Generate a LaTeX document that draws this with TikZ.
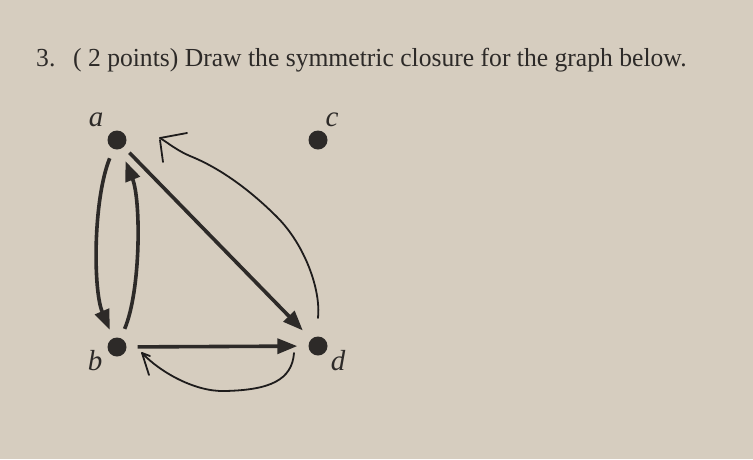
\documentclass[tikz,border=0pt]{standalone}
\usepackage{fontspec}
\setmainfont{Liberation Serif}
\usetikzlibrary{arrows.meta,calc}
\definecolor{paper}{RGB}{214,205,191}
\definecolor{ink}{RGB}{45,42,40}
\definecolor{pen}{RGB}{30,28,28}
\tikzset{
  dot/.style={circle,fill=ink,inner sep=0pt,minimum size=19pt},
  lbl/.style={font=\fontsize{29}{29}\selectfont\itshape,text=ink,inner sep=0pt},
  arr/.style={draw=ink,line width=3.6pt,-{Triangle[length=20pt,width=15pt]}},
  hand/.style={draw=pen,line width=1.8pt,line cap=round,line join=round},
}
\begin{document}
\begin{tikzpicture}[x=1pt,y=-1pt]
\fill[paper] (0,0) rectangle (753,459);
\useasboundingbox (0,0) rectangle (753,459);
\node[anchor=base west,inner sep=0pt,text=ink] (title) at (36,66)
  {\scalebox{0.985}[1]{\fontsize{26}{26}\selectfont 3.\hspace{18pt}( 2 points) Draw the symmetric closure for the graph below.}};
\node[dot] (a) at (117,140) {};
\node[dot] (c) at (318,140) {};
\node[dot] (b) at (117,347) {};
\node[dot] (d) at (318,346) {};
\node[lbl] (la) at (96,120) {a};
\node[lbl] (lc) at (332,120) {c};
\node[lbl] (lb) at (95,361) {b};
\node[lbl] (ld) at (338,361) {d};
% original relation
\draw[arr,shorten <=10pt,shorten >=9pt] (a) .. controls (93,200) and (93,290) .. (b);
\draw[arr,shorten <=10pt,shorten >=13pt] (b) .. controls (141,290) and (141,200) .. (a);
\draw[arr,shorten <=8pt,shorten >=12pt] (a) -- (d);
\draw[arr,shorten <=11pt,shorten >=11pt] (b) -- (d);
% handwritten additions
\coordinate (da1) at ($(d)+(0,-28)$);
\coordinate (da2) at ($(a)+(43,-2)$);
\draw[hand] (da1) .. controls (321,290) and (305,245) .. (277,217)
  .. controls (250,190) and (220,168) .. (190,156)
  .. controls (178,151) and (168,143) .. (da2);
\draw[hand] ($(da2)+(0,2)$) -- ($(da2)+(3,24)$);
\draw[hand] (da2) -- ($(da2)+(27,-5)$);
\coordinate (db1) at ($(d)+(-24,7)$);
\coordinate (db2) at ($(b)+(25,6)$);
\draw[hand] (db1) .. controls (292,380) and (270,390) .. (225,391)
  .. controls (195,392) and (160,372) .. (db2);
\draw[hand] (db2) -- ($(db2)+(7,22)$);
\draw[hand] (db2) -- ($(db2)+(8,3)$);
\end{tikzpicture}
\end{document}
